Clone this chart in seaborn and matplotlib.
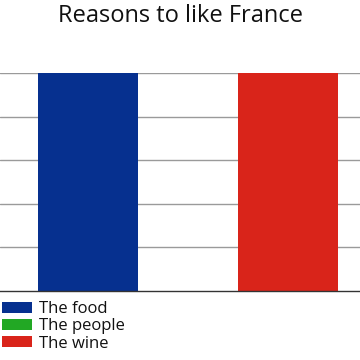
import matplotlib
matplotlib.use("Agg")
import matplotlib.pyplot as plt
import seaborn as sns
import pandas as pd
from matplotlib.patches import Patch

categories = ["The food", "The people", "The wine"]
values = [5, 0, 5]
colors = ["#06308F", "#22A824", "#D9241A"]
title = "Reasons to like France"

sns.set_theme(style="white")
plt.rcParams['font.family'] = ['Open Sans', 'DejaVu Sans']

df = pd.DataFrame({"reason": categories, "value": values})

fig = plt.figure(figsize=(3.6, 3.6), dpi=100)
ax = fig.add_axes([0, 1 - 291/360, 1, (291 - 73)/360])
sns.barplot(data=df, x="reason", y="value", hue="reason", palette=colors,
            width=1.0, legend=False, ax=ax, saturation=1, linewidth=0)
ax.set_xlim(-0.88, 2.72)
ax.set_ylim(0, 5)
ax.set_yticks([1, 2, 3, 4, 5])
ax.yaxis.grid(True, color="#9a9a9a", linewidth=1.0)
ax.set_axisbelow(True)
for s in ["top", "left", "right"]:
    ax.spines[s].set_visible(False)
ax.spines["bottom"].set_color("#333333")
ax.spines["bottom"].set_linewidth(1.0)
ax.set_xticks([])
ax.set_yticklabels([])
ax.tick_params(left=False, bottom=False)
ax.set_xlabel("")
ax.set_ylabel("")

fig.text(0.5, 1 - 16/360, title, ha="center", va="center", fontsize=17, color="#111111")

handles = [Patch(facecolor=c, edgecolor="none") for c in colors]
fig.legend(handles, categories, loc="upper left", bbox_to_anchor=(0.0, 1 - 299.5/360),
           frameon=False, fontsize=12, handlelength=1.8, handleheight=0.62,
           handletextpad=0.45, labelspacing=0.07, borderaxespad=0, borderpad=0.1,
           labelcolor="#111111")

fig.savefig("out.png", dpi=100)
